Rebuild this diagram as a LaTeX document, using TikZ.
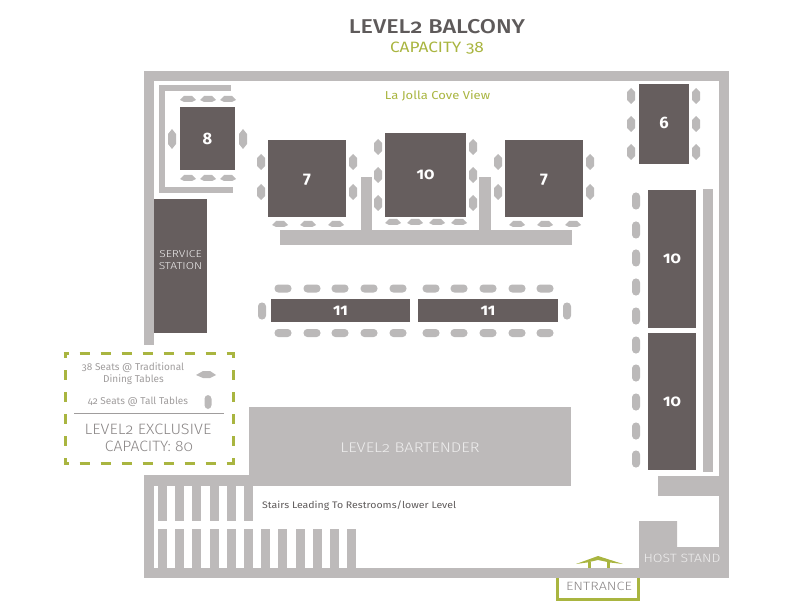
\documentclass[tikz,border=0pt]{standalone}
\usepackage{graphicx}
\usepackage{fontspec}
\setmainfont{Fira Sans}[Numbers=OldStyle]
\newfontfamily\medfont{Fira Sans Medium}[Numbers=OldStyle]
\newfontfamily\lightfont{Fira Sans Light}[Numbers=OldStyle]
\newcommand\wider[2]{\scalebox{#1}[1]{#2}}
\definecolor{wallc}{HTML}{BDBABA}
\definecolor{seatc}{HTML}{BBB9B9}
\definecolor{tablec}{HTML}{665E5E}
\definecolor{greenc}{HTML}{A9B540}
\definecolor{darkt}{HTML}{5E5A5A}
\definecolor{lightt}{HTML}{A09D9D}
\definecolor{midt}{HTML}{8A8686}
\definecolor{onw}{HTML}{EEEDED}
\tikzset{
 wall/.style={fill=wallc,draw=none},
 tablebox/.style={fill=tablec,draw=none},
 num/.style={text=white,font=\fontsize{16.5}{16.5}\selectfont\bfseries,inner sep=0pt},
 legend/.style={text=lightt,font=\fontsize{10}{10}\selectfont,inner sep=0pt},
 onwall/.style={text=onw,inner sep=0pt},
 pill/.style={fill=seatc,draw=none,rounded corners=3.8pt},
 legenddash/.style={greenc,line width=3pt,line cap=butt},
 hseat/.pic={\fill[seatc] (-8,1)--(-4,-3)--(4,-3)--(8,1)--(4,3)--(-4,3)--cycle;},
 vseat/.pic={\fill[seatc] (0,-8)--(4,-4)--(4,4)--(0,8)--(-4,4)--(-4,-4)--cycle;},
 vseatl/.pic={\fill[seatc] (0,-10)--(4,-5)--(4,5)--(0,10)--(-4,5)--(-4,-5)--cycle;},
 hpill/.pic={\fill[pill] (-8.5,-4) rectangle (8.5,4);},
 vpill/.pic={\fill[pill] (-4,-8.5) rectangle (4,8.5);},
}
\begin{document}
\begin{tikzpicture}[x=1pt,y=-1pt]
\useasboundingbox (0,0) rectangle (792,612);
% entrance
\draw[greenc,line width=3pt] (557.5,575)--(557.5,599.5)--(638.5,599.5)--(638.5,575);
\fill[greenc] (576,564)--(598,556)--(623,564)--(610,562.5)--(598,560)--(587,562.5)--cycle;
\fill[greenc] (587.5,562) rectangle (591,569);
\fill[greenc] (606.5,562) rectangle (610,569);
% outer walls
\fill[wall] (144,71) rectangle (729,81);
\fill[wall] (144,71) rectangle (154,345);
\fill[wall] (719,71) rectangle (729,578);
\fill[wall] (144,568) rectangle (729,578);
\fill[wall] (144,475) rectangle (154,578);
\fill[wall] (144,475) rectangle (250,486);
% bartender
\fill[wall] (249,407) rectangle (571,486);
% L wall
\fill[wall] (159,85) rectangle (231,91.5);
\fill[wall] (159,85) rectangle (165,193.5);
\fill[wall] (159,187) rectangle (233,193.5);
% central wall
\fill[wall] (280,230) rectangle (572,245);
\fill[wall] (361,177) rectangle (372,232);
\fill[wall] (479,177) rectangle (491,232);
% right walls
\fill[wall] (703,189) rectangle (713,472);
\fill[wall] (658,476) rectangle (720,496);
\fill[wall] (639,569)--(639,521)--(677,521)--(677,547)--(720,547)--(720,569)--cycle;
% stairs
\foreach \x in {158,175.2,192.4,209.6,226.8,244}{\fill[wall] (\x,485) rectangle (\x+9,521);}
\foreach \x in {158,175.2,192.4,209.6,226.8,244,261.2,278.4,295.6,312.8,330,347.2}{\fill[wall] (\x,529) rectangle (\x+9,569);}
% tables
\fill[tablebox] (154,199) rectangle (206.5,333);
\node[onwall,font=\fontsize{10}{10}\selectfont\lightfont] (svc1) at (180.5,254) {\wider{1.2}{SERVICE}};
\node[onwall,font=\fontsize{10}{10}\selectfont\lightfont] (svc2) at (180.5,266) {\wider{1.2}{STATION}};
\path[tablebox] (180,107.5) rectangle (235,170);
\node[num] (t8) at (207.5,139) {8};
\path[tablebox] (268,140) rectangle (346,217);
\node[num] (t7a) at (307,180) {7};
\path[tablebox] (385,133) rectangle (466,217);
\node[num] (t10c) at (425.5,175) {10};
\path[tablebox] (505,140) rectangle (583,217);
\node[num] (t7b) at (544,180) {7};
\path[tablebox] (639,84) rectangle (689,164);
\node[num] (t6) at (664,123) {6};
\path[tablebox] (648,190) rectangle (696,328);
\node[num] (t10r) at (672,259) {10};
\path[tablebox] (648,333) rectangle (696,470);
\node[num] (t10s) at (672,402) {10};
\path[tablebox] (271,299) rectangle (410,322);
\node[num] (t11a) at (340.5,311) {11};
\path[tablebox] (418,299) rectangle (558,322);
\node[num] (t11b) at (488,311) {11};
% seats
\foreach \x in {188,208,228}{\pic at (\x,99) {hseat};\pic at (\x,178) {hseat};}
\pic at (172,139) {vseatl};\pic at (243,139) {vseatl};
\foreach \y in {162,192}{\pic at (261,\y) {vseat};\pic at (353,\y) {vseat};\pic at (498,\y) {vseat};\pic at (590,\y) {vseat};}
\foreach \x in {280,308,336,517,545,573}{\pic at (\x,224) {hseat};}
\foreach \y in {147,175,203}{\pic at (378,\y) {vseat};\pic at (473,\y) {vseat};}
\foreach \x in {393,415,437,459}{\pic at (\x,222) {hseat};}
\foreach \y in {96,124,152}{\pic at (631,\y) {vseat};\pic at (696,\y) {vseat};}
\foreach \x in {283,312,340,369,398,431,459,488,517,545}{\pic at (\x,288.5) {hpill};\pic at (\x,333) {hpill};}
\pic at (262,311) {vpill};\pic at (567,311) {vpill};
\foreach \y in {201,230,258,287,316,345,373,402,431,459}{\pic at (636,\y) {vpill};}
% titles
\node[text=darkt,font=\fontsize{20}{20}\selectfont\medfont,inner sep=0pt] (title) at (437,27) {\wider{1.17}{LEVEL2 BALCONY}};
\node[text=greenc,font=\fontsize{15}{15}\selectfont,inner sep=0pt] (cap) at (437,48) {\wider{1.15}{CAPACITY 38}};
\node[text=greenc,font=\fontsize{11.5}{11.5}\selectfont,inner sep=0pt] (view) at (437.5,96) {\wider{1.13}{La Jolla Cove View}};
% legend
\draw[legenddash,dash pattern=on 10pt off 11pt,dash phase=5pt] (63.5,353)--(234.5,353);
\draw[legenddash,dash pattern=on 10pt off 11pt,dash phase=5pt] (63.5,463)--(234.5,463);
\draw[legenddash,dash pattern=on 10pt off 12pt,dash phase=5pt] (65,353)--(65,463);
\draw[legenddash,dash pattern=on 10pt off 12pt,dash phase=5pt] (233,353)--(233,463);
\node[legend] (l1) at (133,368) {38 Seats @ Traditional};
\node[legend] (l2) at (133.5,380) {Dining Tables};
\node[legend] (l3) at (138,401.5) {42 Seats @ Tall Tables};
\fill[seatc] (196,375)--(203,371)--(210,371)--(216,375)--(210,378)--(203,378)--cycle;
\fill[pill] (204.5,395) rectangle (211.5,409);
\coordinate (la) at (74,413); \coordinate (lb) at (224,413);
\draw[lightt,line width=0.6pt] (la)--(lb);
\node[legend,font=\fontsize{15}{15}\selectfont\lightfont,text=midt] (l4) at (148,429) {\wider{1.08}{LEVEL2 EXCLUSIVE}};
\node[legend,font=\fontsize{15}{15}\selectfont\lightfont,text=midt] (l5) at (149,446) {\wider{1.05}{CAPACITY: 80}};
% labels
\node[onwall,font=\fontsize{14}{14}\selectfont\lightfont] (bar) at (410,448) {\wider{1.18}{LEVEL2 BARTENDER}};
\node[text=darkt,anchor=west,font=\fontsize{9.5}{9.5}\selectfont,inner sep=0pt] (stairs) at (262,506) {\wider{1.11}{Stairs Leading To Restrooms/lower Level}};
\node[onwall,font=\fontsize{12}{12}\selectfont\lightfont] (host) at (682,558) {\wider{1.17}{HOST STAND}};
\node[text=midt,font=\fontsize{12}{12}\selectfont\lightfont,inner sep=0pt] (ent) at (599,586) {\wider{1.2}{ENTRANCE}};
\end{tikzpicture}
\end{document}
